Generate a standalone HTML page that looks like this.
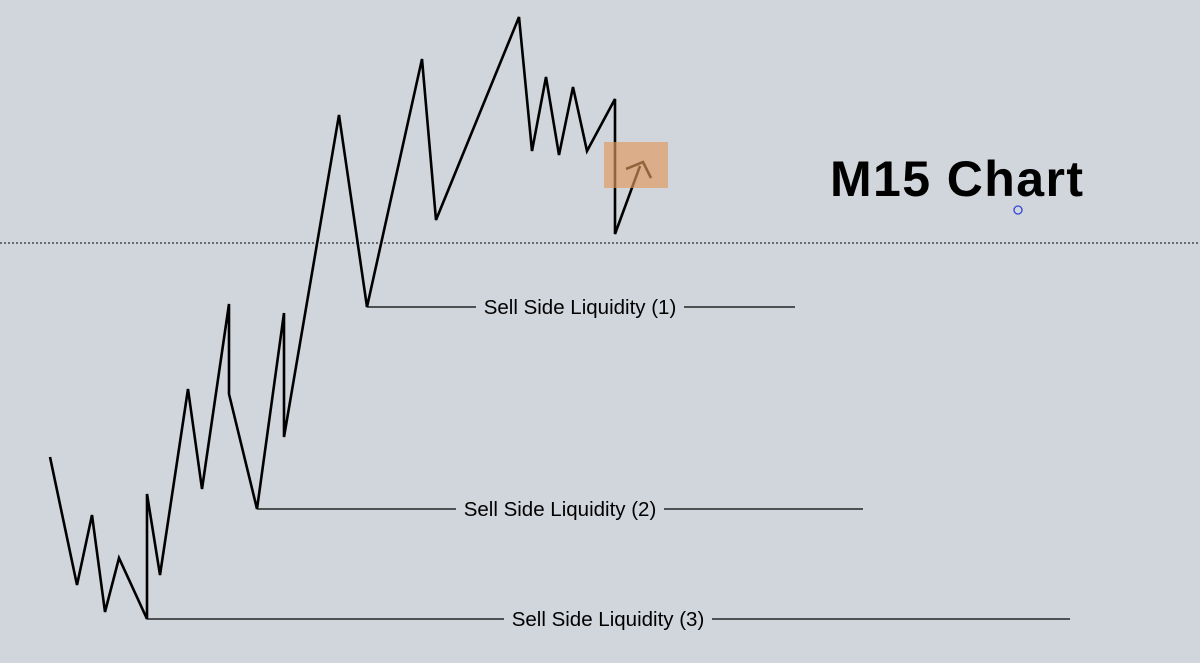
<!DOCTYPE html>
<html><head><meta charset="utf-8"><style>
html,body{margin:0;padding:0;background:#d1d5dc;}
svg{display:block;}
text{font-family:"Liberation Sans",sans-serif;}
</style></head><body>
<svg width="1200" height="663" viewBox="0 0 1200 663">
<rect width="1200" height="663" fill="#d1d5dc"/>
<line x1="0" y1="243" x2="1200" y2="243" stroke="#000" stroke-width="1" stroke-dasharray="2,2"/>
<polyline id="price" fill="none" stroke="#000" stroke-width="2.6" stroke-linejoin="miter"/>
<polyline points="626,169 643,162 651,178" fill="none" stroke="#000" stroke-width="2.6"/>
<rect x="604" y="142" width="64" height="46" fill="#e09a5c" opacity="0.65"/>
<g id="liq"></g>
<text x="830" y="196" font-size="50" font-weight="bold" textLength="253" lengthAdjust="spacing" fill="#000">M15 Chart</text>
<circle cx="1018" cy="210" r="4" fill="none" stroke="#3344dd" stroke-width="1.3"/>
</svg>
<script>
const xs=[50,77,92,105,119,147,147,160,188,202,229,229,257,284,284,339,367,422,436,519,532,546,559,573,587,615,615,640];
const ys=[457,585,515,612,558,619,494,575,389,489,304,394,509,313,437,115,307,59,220,17,151,77,155,87,151,99,234,166];
const liqLabels=["Sell Side Liquidity (1)","Sell Side Liquidity (2)","Sell Side Liquidity (3)"];
const liqY=[307,509,619];
const liqStart=[367,257,147];
const liqEnd=[795,863,1070];
const liqTextX=[580,560,608];
const p=document.getElementById('price');
p.setAttribute('points',xs.map((x,i)=>x+','+ys[i]).join(' '));
const g=document.getElementById('liq');
const NS='http://www.w3.org/2000/svg';
liqLabels.forEach((lab,i)=>{
  const half=104;
  const segs=[[liqStart[i],liqTextX[i]-half],[liqTextX[i]+half,liqEnd[i]]];
  segs.forEach(s=>{
    const l=document.createElementNS(NS,'line');
    l.setAttribute('x1',s[0]);l.setAttribute('x2',s[1]);
    l.setAttribute('y1',liqY[i]);l.setAttribute('y2',liqY[i]);
    l.setAttribute('stroke','#000');l.setAttribute('stroke-width','1.3');
    
    
    g.appendChild(l);
  });
  const t=document.createElementNS(NS,'text');
  t.setAttribute('x',liqTextX[i]);t.setAttribute('y',liqY[i]+7);
  t.setAttribute('text-anchor','middle');t.setAttribute('font-size','20.5');
  t.setAttribute('fill','#000');
  t.textContent=lab;
  
  
  g.appendChild(t);
});
</script>
</body></html>
